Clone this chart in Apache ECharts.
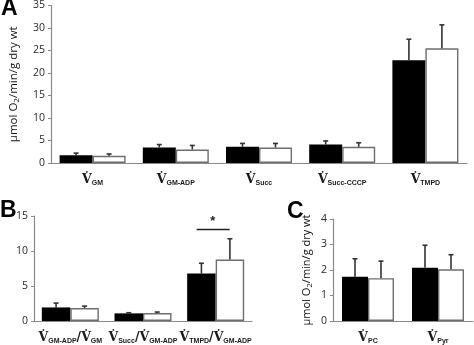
<!DOCTYPE html>
<html>
<head>
<meta charset="utf-8">
<script src="https://cdn.jsdelivr.net/npm/echarts@6/dist/echarts.min.js"></script>
<style>
html,body{margin:0;padding:0;background:#fff;}
#chart{width:474px;height:345px;}
</style>
</head>
<body>
<div id="chart"></div>
<script>
// Panel A: oxygen flux rates
const catsA = [['GM'], ['GM-ADP'], ['Succ'], ['Succ-CCCP'], ['TMPD']];
const aBlack = [1.75, 3.45, 3.6, 4.1, 22.85];
const aBlackErr = [2.2, 4.1, 4.35, 4.9, 27.5];
const aWhite = [1.6, 3.0, 3.45, 3.6, 25.5];
const aWhiteErr = [2.0, 3.9, 4.35, 4.5, 30.7];

// Panel B: flux ratios
const catsB = [['GM-ADP', 'GM'], ['Succ', 'GM-ADP'], ['TMPD', 'GM-ADP']];
const bBlack = [1.94, 1.09, 6.78];
const bBlackErr = [2.56, 1.18, 8.25];
const bWhite = [1.85, 1.14, 8.77];
const bWhiteErr = [2.13, 1.28, 11.75];
const sigB = [[2, 13.08]];

// Panel C: PC and pyruvate flux
const catsC = [['PC'], ['Pyr']];
const cBlack = [1.74, 2.09];
const cBlackErr = [2.44, 2.97];
const cWhite = [1.68, 2.03];
const cWhiteErr = [2.35, 2.6];

const chart = echarts.init(document.getElementById('chart'), null, {renderer: 'canvas'});

const axisGray = '#8a8a8a';
const labelColor = '#2a2a2a';

function catLabel(parts) {
  return parts.map(p => '{v|V\u0307}{s|' + p + '}').join('{sl|/}');
}
const catRich = {
  v: {fontFamily: 'DejaVu Serif', fontWeight: 'bold', fontSize: 12.5, color: '#1a1a1a'},
  s: {fontFamily: '"Liberation Sans Narrow", "Liberation Sans"', fontWeight: 'bold', fontSize: 7, color: '#1a1a1a', padding: [7, 0, 0, 0]},
  sl: {fontFamily: 'DejaVu Serif', fontWeight: 'bold', fontSize: 12.5, color: '#1a1a1a'}
};
function nameRich(size) {
  return {
    n: {fontFamily: 'Open Sans', fontSize: size, color: '#111'},
    sub: {fontFamily: 'Open Sans', fontSize: 8, color: '#111', padding: [6, 0, 0, 0]}
  };
}
const yName = '{n|μmol O}{sub|2}{n|/min/g dry wt}';

function xAxisFor(gi, cats) {
  return {
    type: 'category', gridIndex: gi, data: cats.map(catLabel),
    axisLine: {lineStyle: {color: axisGray, width: 1.2}},
    axisTick: {show: false},
    axisLabel: {rich: catRich, margin: 10, interval: 0, formatter: v => v}
  };
}
function yAxisFor(gi, max, interval, name, nameGap, nameSize) {
  return {
    type: 'value', gridIndex: gi, min: 0, max: max, interval: interval,
    name: name, nameLocation: 'middle', nameGap: nameGap, nameRotate: 90,
    nameTextStyle: {rich: nameRich(nameSize)},
    splitLine: {show: false},
    axisLine: {show: true, lineStyle: {color: axisGray, width: 1.2}},
    axisTick: {show: true, length: 3, lineStyle: {color: axisGray}},
    axisLabel: {fontFamily: 'Open Sans', fontSize: 10.5, color: labelColor, margin: 6}
  };
}

function barSeries(gi, data, black, width) {
  return {
    type: 'bar', xAxisIndex: gi, yAxisIndex: gi, data: data,
    barWidth: width, barGap: '0%',
    itemStyle: black ? {color: '#000'} : {color: '#fff', borderColor: '#6e6e6e', borderWidth: 1.4},
    silent: true, z: 2
  };
}

// upward error whisker with a small cap, offset to the left (-1) or right (+1) bar
function errSeries(gi, vals, errs, side, width) {
  return {
    type: 'custom', xAxisIndex: gi, yAxisIndex: gi, z: 3, silent: true,
    data: vals.map((v, i) => [i, v, errs[i]]),
    encode: {x: 0, y: [1, 2]},
    renderItem: function (params, api) {
      const i = api.value(0);
      const p0 = api.coord([i, api.value(1)]);
      const p1 = api.coord([i, api.value(2)]);
      const x = p0[0] + side * width / 2;
      return {
        type: 'group',
        children: [
          {type: 'line', shape: {x1: x, y1: p0[1], x2: x, y2: p1[1]}, style: {stroke: '#333', lineWidth: 1.6}},
          {type: 'line', shape: {x1: x - 2.5, y1: p1[1], x2: x + 2.5, y2: p1[1]}, style: {stroke: '#333', lineWidth: 1.6}}
        ]
      };
    }
  };
}

const option = {
  animation: false,
  backgroundColor: '#fff',
  grid: [
    {left: 37, right: 7, top: 5, bottom: 182},
    {left: 34, width: 218, top: 216, bottom: 23},
    {left: 333, width: 140, top: 219, bottom: 23}
  ],
  xAxis: [xAxisFor(0, catsA), xAxisFor(1, catsB), xAxisFor(2, catsC)],
  yAxis: [
    yAxisFor(0, 35, 5, yName, 30, 11.5),
    yAxisFor(1, 15, 5, '', 20, 11.5),
    yAxisFor(2, 4, 1, yName, 19, 11)
  ],
  graphic: [
    {type: 'text', left: 1, top: -3, style: {text: 'A', font: 'bold 23px "Liberation Sans"', fill: '#000'}},
    {type: 'text', left: 0, top: 199, style: {text: 'B', font: 'bold 23px "Liberation Sans"', fill: '#000'}},
    {type: 'text', left: 287, top: 200, style: {text: 'C', font: 'bold 23px "Liberation Sans"', fill: '#000'}}
  ],
  series: [
    barSeries(0, aBlack, true, 33), barSeries(0, aWhite, false, 33),
    errSeries(0, aBlack, aBlackErr, -1, 33), errSeries(0, aWhite, aWhiteErr, 1, 33),
    barSeries(1, bBlack, true, 28.5), barSeries(1, bWhite, false, 28.5),
    errSeries(1, bBlack, bBlackErr, -1, 28.5), errSeries(1, bWhite, bWhiteErr, 1, 28.5),
    barSeries(2, cBlack, true, 26), barSeries(2, cWhite, false, 26),
    errSeries(2, cBlack, cBlackErr, -1, 26), errSeries(2, cWhite, cWhiteErr, 1, 26),
    {
      // significance bracket with asterisk
      type: 'custom', xAxisIndex: 1, yAxisIndex: 1, z: 3, silent: true,
      data: sigB, encode: {x: 0, y: 1},
      renderItem: function (params, api) {
        const p = api.coord([api.value(0), api.value(1)]);
        return {
          type: 'group',
          children: [
            {type: 'line', shape: {x1: p[0] - 19, y1: p[1], x2: p[0] + 14, y2: p[1]}, style: {stroke: '#222', lineWidth: 1.4}},
            {type: 'text', x: p[0] - 3, y: p[1] - 2, style: {text: '*', font: 'bold 13px "Liberation Sans"', fill: '#222', align: 'center', verticalAlign: 'bottom'}}
          ]
        };
      }
    }
  ]
};
chart.setOption(option);
</script>
</body>
</html>
